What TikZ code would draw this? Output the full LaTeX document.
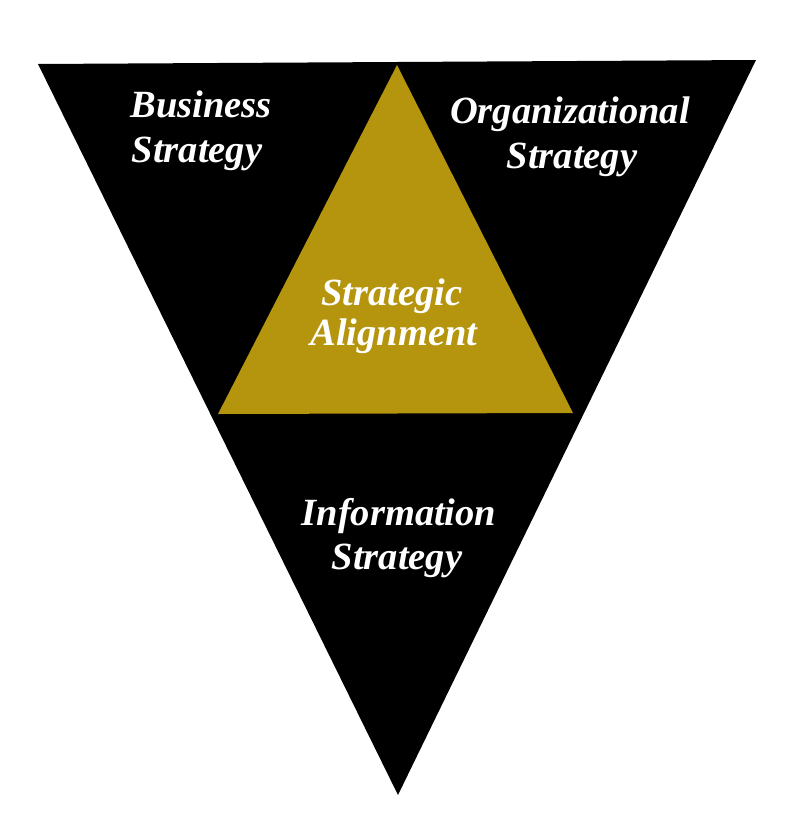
\documentclass[tikz,border=0pt]{standalone}
\usepackage{fontspec}
\setmainfont{Liberation Serif}
\definecolor{gold}{RGB}{181,149,14}
\begin{document}
\begin{tikzpicture}[x=1pt,y=-1pt,
  lbl/.style={text=white,anchor=base,inner sep=0pt,font=\fontsize{38.5}{44}\selectfont\bfseries\itshape}]
\useasboundingbox[fill=white] (0,0) rectangle (800,833);
% outer inverted triangle
\coordinate (tl) at (38,64);
\coordinate (tr) at (756,60);
\coordinate (bt) at (398,795);
\fill[black] (tl) -- (tr) -- (bt) -- cycle;
% inner gold triangle
\coordinate (ap) at (397,65);
\coordinate (gl) at (218,414);
\coordinate (gr) at (573,413);
\fill[gold] (ap) -- (gr) -- (gl) -- cycle;
% labels
\node[lbl] (bs1) at (201,117) {Business};
\node[lbl] (bs2) at (197,162) {Strategy};
\node[lbl] (os1) at (570,123) {Organizational};
\node[lbl] (os2) at (572,168) {Strategy};
\node[lbl] (sa1) at (392,305) {Strategic};
\node[lbl] (sa2) at (394,345) {Alignment};
\node[lbl] (is1) at (399,525) {Information};
\node[lbl] (is2) at (397,569) {Strategy};
\end{tikzpicture}
\end{document}
